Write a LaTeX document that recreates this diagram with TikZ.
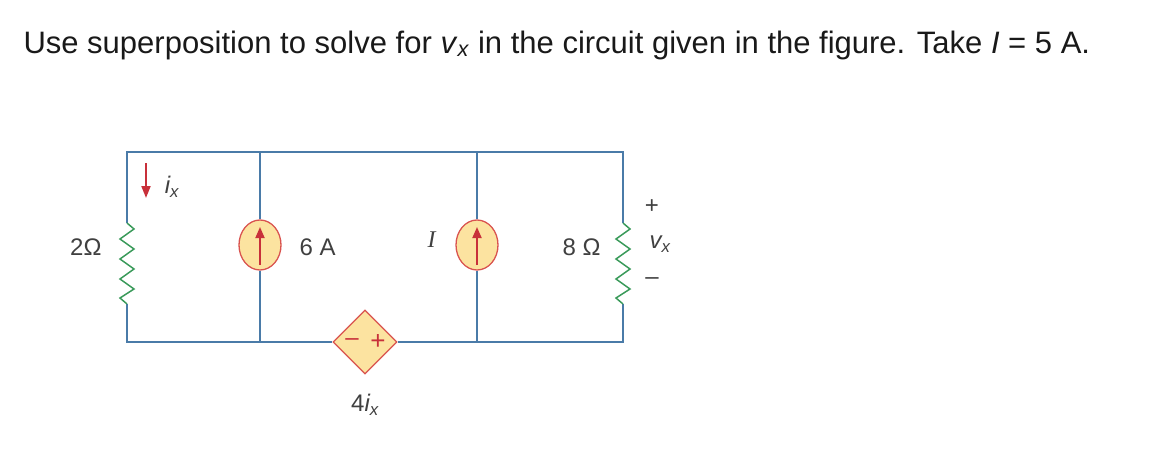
\documentclass[tikz,border=0pt]{standalone}
\usepackage{fontspec}
\setmainfont{Liberation Sans}
\usetikzlibrary{shapes.geometric,arrows.meta}
\definecolor{wire}{HTML}{4A7BA8}
\definecolor{srcfill}{HTML}{FCE3A0}
\definecolor{srcedge}{HTML}{D9534F}
\definecolor{arr}{HTML}{C8303A}
\definecolor{res}{HTML}{3A9A5A}
\begin{document}
\begin{tikzpicture}[x=1pt,y=-1pt,
  w/.style={draw=wire,line width=1.6pt},
  src/.style={ellipse,draw=srcedge,fill=srcfill,line width=1.3pt,minimum width=42pt,minimum height=50pt,inner sep=0},
  dep/.style={diamond,draw=srcedge,fill=srcfill,line width=1.3pt,minimum width=64pt,minimum height=64pt,inner sep=0},
  lab/.style={font=\fontsize{24}{26}\selectfont,text=black!75}]
\useasboundingbox (0,0) rectangle (1176,450);
\node[anchor=west,font=\fontsize{31}{34}\selectfont,text=black!90] (title) at (20,45) {Use superposition to solve for \textit{v}\textsubscript{\textit{x}} in the circuit given in the figure. Take \textit{I} = 5 A.};
\coordinate (tl) at (127,152); \coordinate (tr) at (623,152);
\coordinate (bl) at (127,342); \coordinate (br) at (623,342);
\coordinate (t2) at (260,152); \coordinate (t3) at (477,152);
\coordinate (b2) at (260,342); \coordinate (b3) at (477,342);
\coordinate (r1a) at (127,223); \coordinate (r1b) at (127,304);
\coordinate (r2a) at (623,223); \coordinate (r2b) at (623,304);
\node[src] (s6) at (260,245) {};
\node[src] (sI) at (477,245) {};
\node[dep] (d) at (365,342) {};
\draw[w] (r1a) -- (tl) -- (tr) -- (r2a);
\draw[w] (r1b) -- (bl) -- (d.west);
\draw[w] (d.east) -- (br) -- (r2b);
\draw[w] (t2) -- (s6.north); \draw[w] (s6.south) -- (b2);
\draw[w] (t3) -- (sI.north); \draw[w] (sI.south) -- (b3);
\foreach \x in {127,623}{
 \draw[res,line width=1.5pt] (\x,223) -- (\x+7,229) -- (\x-7,239) -- (\x+7,249) -- (\x-7,259) -- (\x+7,269) -- (\x-7,279) -- (\x+7,289) -- (\x-7,298) -- (\x,304);}
\foreach \s in {s6,sI}{
 \draw[arr,line width=1.8pt,-{Triangle[length=11pt,width=9pt]}] ([yshift=-20pt]\s.center) -- ([yshift=18pt]\s.center);}
\draw[arr,line width=1.8pt,-{Triangle[length=12pt,width=9pt]}] (146,163) -- (146,198);
\node[lab] (ix) at (172,187) {\textit{i\textsubscript{x}}};
\node[lab,anchor=east] (r1l) at (105,247) {2Ω};
\node[lab,anchor=west] (l6) at (296,247) {6 A};
\node[lab] (lI) at (432,240) {\fontspec{Liberation Serif}\textit{I}};
\node[lab,anchor=east] (r2l) at (604,247) {8 Ω};
\node[lab] (p) at (652,207) {+};
\node[lab] (vx) at (660,244) {\textit{v\textsubscript{x}}};
\node[lab] (m) at (652,281) {–};
\node[font=\fontsize{24}{24}\selectfont,text=arr] at ([xshift=-13pt]d.center) {–};
\node[font=\fontsize{26}{26}\selectfont,text=arr] at ([xshift=13pt]d.center) {+};
\node[lab] (g) at (365,405) {4\textit{i\textsubscript{x}}};
\end{tikzpicture}
\end{document}
